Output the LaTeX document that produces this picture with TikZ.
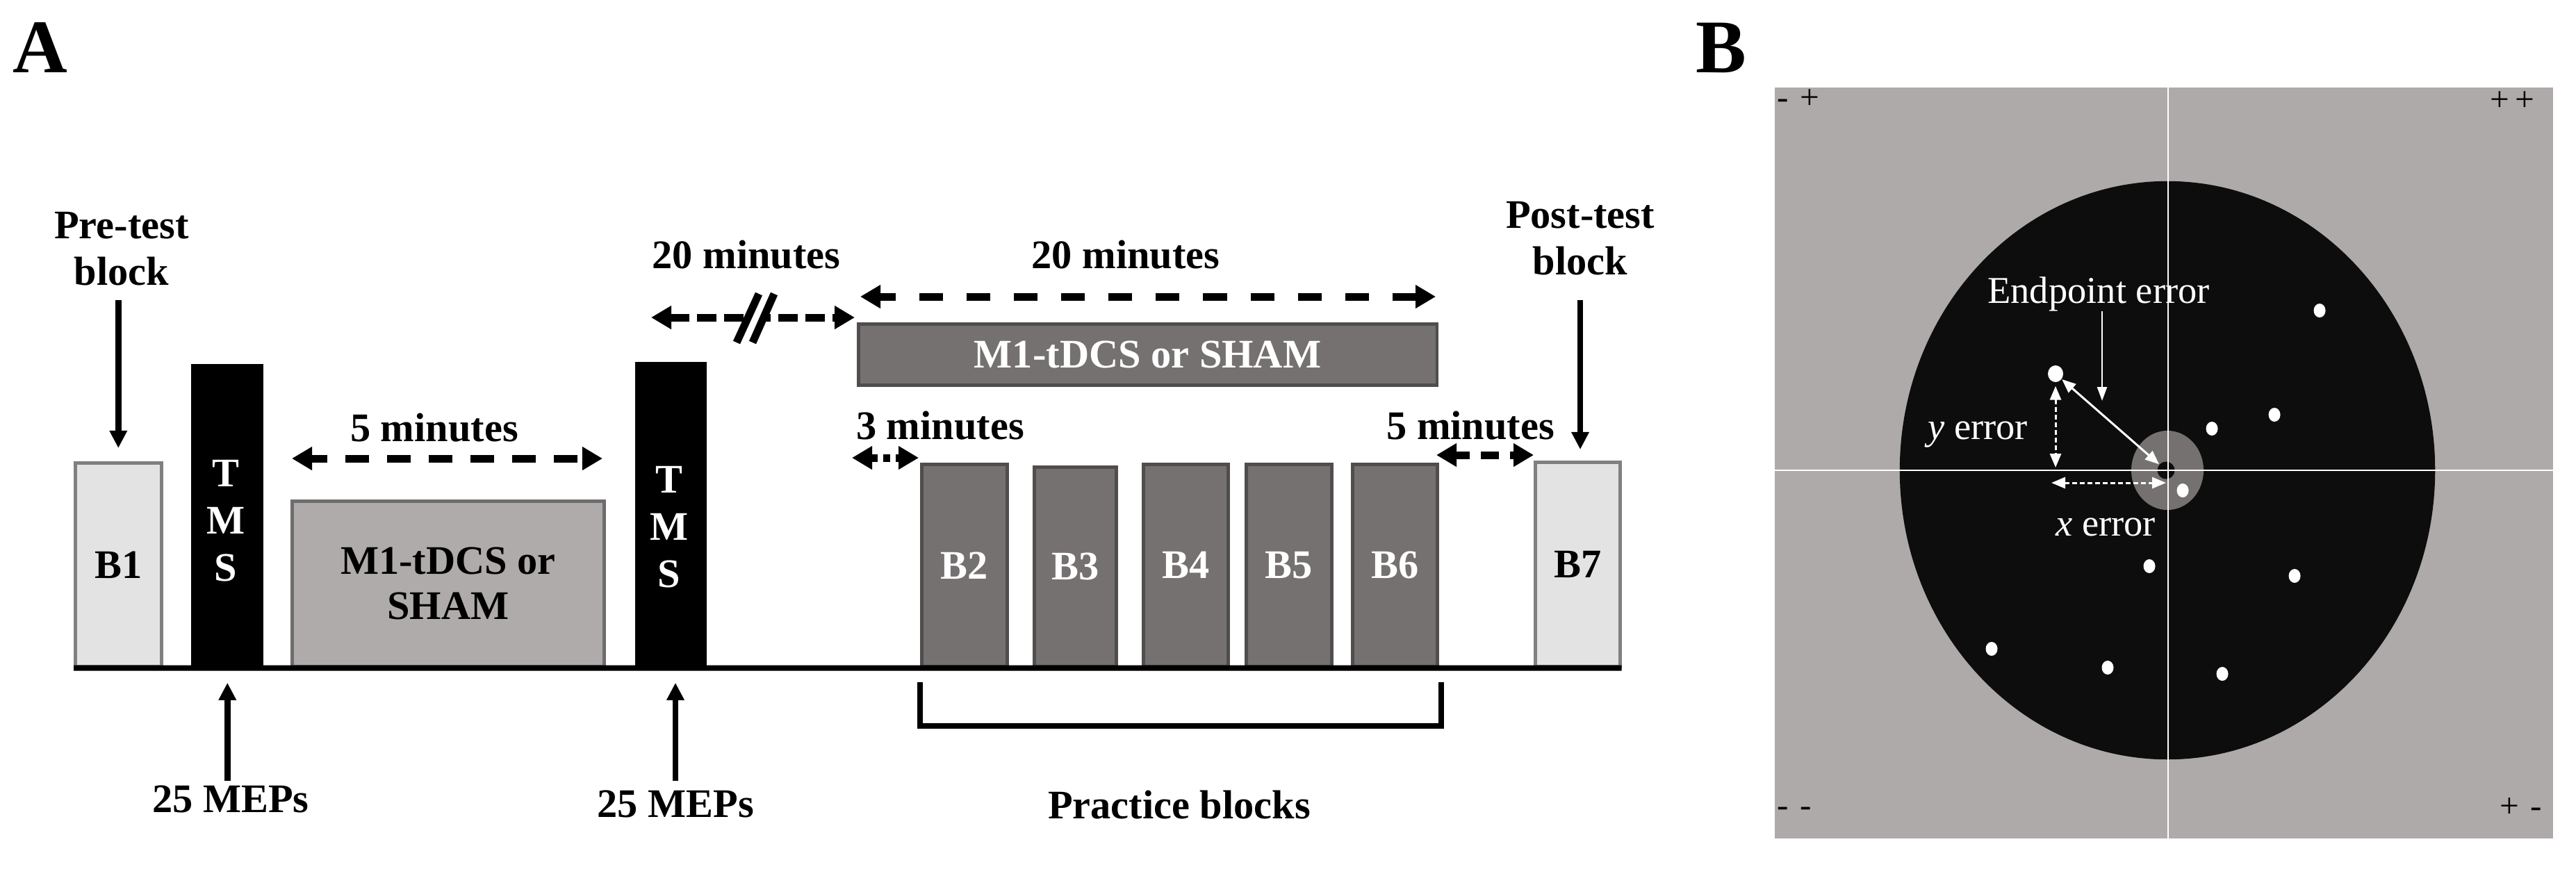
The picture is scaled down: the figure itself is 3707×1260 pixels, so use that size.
\documentclass[tikz,border=0pt]{standalone}
\usepackage{fontspec}
\setmainfont{Liberation Serif}
\usetikzlibrary{arrows.meta,shapes.geometric}
\definecolor{lightbox}{RGB}{227,227,227}
\definecolor{lightedge}{RGB}{128,128,128}
\definecolor{midbox}{RGB}{175,171,171}
\definecolor{midedge}{RGB}{110,108,108}
\definecolor{darkbox}{RGB}{118,113,113}
\definecolor{darkedge}{RGB}{80,77,77}
\definecolor{panelgray}{RGB}{174,170,170}
\definecolor{disk}{RGB}{13,13,13}
\newcommand\fa{\fontsize{16.6}{19}\selectfont\bfseries}
\newcommand\fb{\fontsize{15.5}{18}\selectfont}
\newcommand\fc{\fontsize{14}{17}\selectfont}
\begin{document}
\begin{tikzpicture}[x=0.01cm,y=-0.01cm,
  lbl/.style={font=\fa, inner sep=0pt, text height=0.387cm, text depth=0pt},
  lbltwo/.style={font=\fa, inner sep=0pt, align=center},
  blk/.style={anchor=north west, inner sep=0pt, line width=0.045cm, font=\fa, align=center},
  lightblk/.style={blk, fill=lightbox, draw=lightedge},
  midblk/.style={blk, fill=midbox, draw=midedge},
  darkblk/.style={blk, fill=darkbox, draw=darkedge, text=white},
  tmsblk/.style={blk, fill=black},
  panellbl/.style={font=\fontsize{31}{34}\selectfont\bfseries, inner sep=0pt, text height=0.72cm, text depth=0pt},
  solidarr/.style={line width=0.085cm, -{Triangle[width=0.24cm,length=0.25cm]}},
  dasharr/.style={line width=0.11cm, {Triangle[width=0.32cm,length=0.29cm]}-{Triangle[width=0.32cm,length=0.29cm]}},
  bracketline/.style={line width=0.08cm},
  wtxt/.style={font=\fb, text=white, inner sep=0pt, text height=0.361cm, text depth=0pt},
  corner/.style={font=\fc, inner sep=0pt, text height=0.2cm, text depth=0pt},
  dot/.style={ellipse, fill=white, inner sep=0pt, minimum width=0.17cm, minimum height=0.2cm},
  wdbl/.style={white, line width=0.03cm, {Triangle[width=0.16cm,length=0.2cm]}-{Triangle[width=0.16cm,length=0.2cm]}},
  warr/.style={white, line width=0.025cm, -{Triangle[width=0.14cm,length=0.2cm]}}
]
\useasboundingbox (0,0) rectangle (3707,1260);

% ---------- Panel A ----------
\node[panellbl] (labA) at (58,68) {A};

\node[lightblk, minimum width=1.24cm, minimum height=2.93cm] (B1) at (106,664) {B1};
\node[tmsblk, minimum width=1.04cm, minimum height=4.35cm] (tms1) at (273,522) {};
\node[lbltwo, text=white, font=\fontsize{16.6}{19.3}\selectfont\bfseries] (tms1t) at (325,750) {T\\M\\S};
\node[midblk, minimum width=4.49cm, minimum height=2.38cm, font=\fontsize{16.6}{18.5}\selectfont\bfseries] (M1a) at (418,719) {M1-tDCS or\\SHAM};
\node[tmsblk, minimum width=1.03cm, minimum height=4.38cm] (tms2) at (912,519) {};
\node[lbltwo, text=white, font=\fontsize{16.6}{19.3}\selectfont\bfseries] (tms2t) at (963,759) {T\\M\\S};
\node[darkblk, minimum width=8.32cm, minimum height=0.88cm] (M1b) at (1233,464) {M1-tDCS or SHAM};
\node[darkblk, minimum width=1.23cm, minimum height=2.91cm] (B2) at (1324,666) {B2};
\node[darkblk, minimum width=1.18cm, minimum height=2.87cm] (B3) at (1486,670) {B3};
\node[darkblk, minimum width=1.22cm, minimum height=2.91cm] (B4) at (1643,666) {B4};
\node[darkblk, minimum width=1.23cm, minimum height=2.91cm] (B5) at (1791,666) {B5};
\node[darkblk, minimum width=1.22cm, minimum height=2.91cm] (B6) at (1944,666) {B6};
\node[lightblk, minimum width=1.22cm, minimum height=2.94cm] (B7) at (2207,663) {B7};

% baseline
\draw[line width=0.08cm] (B1.south west) -- (B7.south east);

% labels
\node[lbltwo] (pre) at (175,358) {Pre-test\\block};
\node[lbltwo] (post) at (2274,343) {Post-test\\block};
\node[lbl] (mep1) at (332,1150) {25 MEPs};
\node[lbl] (mep2) at (972,1157) {25 MEPs};
\node[lbl] (min5a) at (625,616) {5 minutes};
\node[lbl] (min20a) at (1074,367) {20 minutes};
\node[lbl] (min20b) at (1620,367) {20 minutes};
\node[lbl] (min3) at (1353,613) {3 minutes};
\node[lbl] (min5b) at (2116,613) {5 minutes};
\node[lbl] (practice) at (1697,1159) {Practice blocks};

% solid arrows
\draw[solidarr, shorten <=0.2cm, shorten >=0.19cm] (B1.north |- pre.south) -- (B1.north);
\draw[solidarr, shorten <=0.35cm, shorten >=0.16cm] (post.south) -- (post.south |- B7.north);
\draw[solidarr, shorten <=0.06cm, shorten >=0.21cm] (mep1.north -| tms1.south) -- (tms1.south);
\draw[solidarr, shorten <=0.13cm, shorten >=0.21cm] (mep2.north) -- (mep2.north |- tms2.south);

% dashed duration arrows
\coordinate (d5a) at (420,660);  \coordinate (d5b) at (867,660);
\coordinate (d20a) at (937,457); \coordinate (d20b) at (1230,457);
\coordinate (d20c) at (1238,427); \coordinate (d20d) at (2066,427);
\coordinate (d3a) at (1226,659); \coordinate (d3b) at (1322,659);
\coordinate (d5c) at (2067,655); \coordinate (d5d) at (2207,655);
\draw[dasharr, dash pattern=on 0.34cm off 0.26cm, dash phase=0.1cm] (d5a) -- (d5b);
\draw[dasharr, dash pattern=on 0.28cm off 0.11cm] (d20a) -- (d20b);
\draw[dasharr, dash pattern=on 0.34cm off 0.34cm, dash phase=0.1cm] (d20c) -- (d20d);
\draw[dasharr, dash pattern=on 0.1cm off 0.08cm] (d3a) -- (d3b);
\draw[dasharr, dash pattern=on 0.26cm off 0.16cm, dash phase=0.05cm] (d5c) -- (d5d);
% break marks
\draw[white, line width=0.11cm] (1071,493) -- (1103,423);
\draw[line width=0.11cm] (1060,493) -- (1092,423);
\draw[line width=0.11cm] (1083,493) -- (1114,423);

% bracket
\draw[bracketline] ([yshift=-0.2cm]B2.south west) -- ([yshift=-0.83cm]B2.south west) -- ([xshift=0.03cm,yshift=-0.83cm]B6.south east) -- ([xshift=0.03cm,yshift=-0.2cm]B6.south east);

% ---------- Panel B ----------
\node[panellbl] (labB) at (2477,68) {B};
\fill[panelgray] (2554,126) rectangle (3674,1207);
\fill[disk] (3119,677) ellipse [x radius=3.85cm, y radius=4.16cm];
\node[ellipse, fill=darkbox, inner sep=0pt, minimum width=1.04cm, minimum height=1.14cm] (tzone) at (3119,677) {};
\node[circle, fill=disk, inner sep=0pt, minimum size=0.25cm] (tgt) at (3117,677) {};
\draw[white, line width=0.025cm] (3120,126) -- (3120,1207);
\draw[white, line width=0.025cm] (2554,677) -- (3674,677);

\node[dot, minimum width=0.22cm, minimum height=0.24cm] (ep) at (2958,538) {};
\node[dot] (p1) at (3338,447) {};
\node[dot] (p2) at (3273,597) {};
\node[dot] (p3) at (3183,617) {};
\node[dot] (p4) at (3141,706) {};
\node[dot] (p5) at (3093,815) {};
\node[dot] (p6) at (3302,829) {};
\node[dot] (p7) at (2866,934) {};
\node[dot] (p8) at (3033,961) {};
\node[dot] (p9) at (3198,970) {};

\node[wtxt] (eptxt) at (3020,418) {Endpoint error};
\node[wtxt] (ytxt) at (2846,614) {\textit{y} error};
\node[wtxt] (xtxt) at (3030,753) {\textit{x} error};

\coordinate (eptip) at (3025,577);
\coordinate (yb) at (2958,673);
\coordinate (xa) at (2952,695);
\coordinate (xb) at (3117,695);
\draw[wdbl] (ep) -- (tgt);
\draw[warr, shorten <=0.11cm] (eptxt.south -| eptip) -- (eptip);
\draw[wdbl, dash pattern=on 0.07cm off 0.04cm, shorten <=0.05cm] (ep) -- (yb);
\draw[wdbl, dash pattern=on 0.07cm off 0.04cm] (xa) -- (xb);

\node[corner] (cmp) at (2588,146) {-\,\,+};
\node[corner] (cpp) at (3615,149) {+\,+};
\node[corner] (cmm) at (2582,1165) {-\,\,-};
\node[corner] (cpm) at (3628,1166) {+\,\,-};
\end{tikzpicture}
\end{document}
